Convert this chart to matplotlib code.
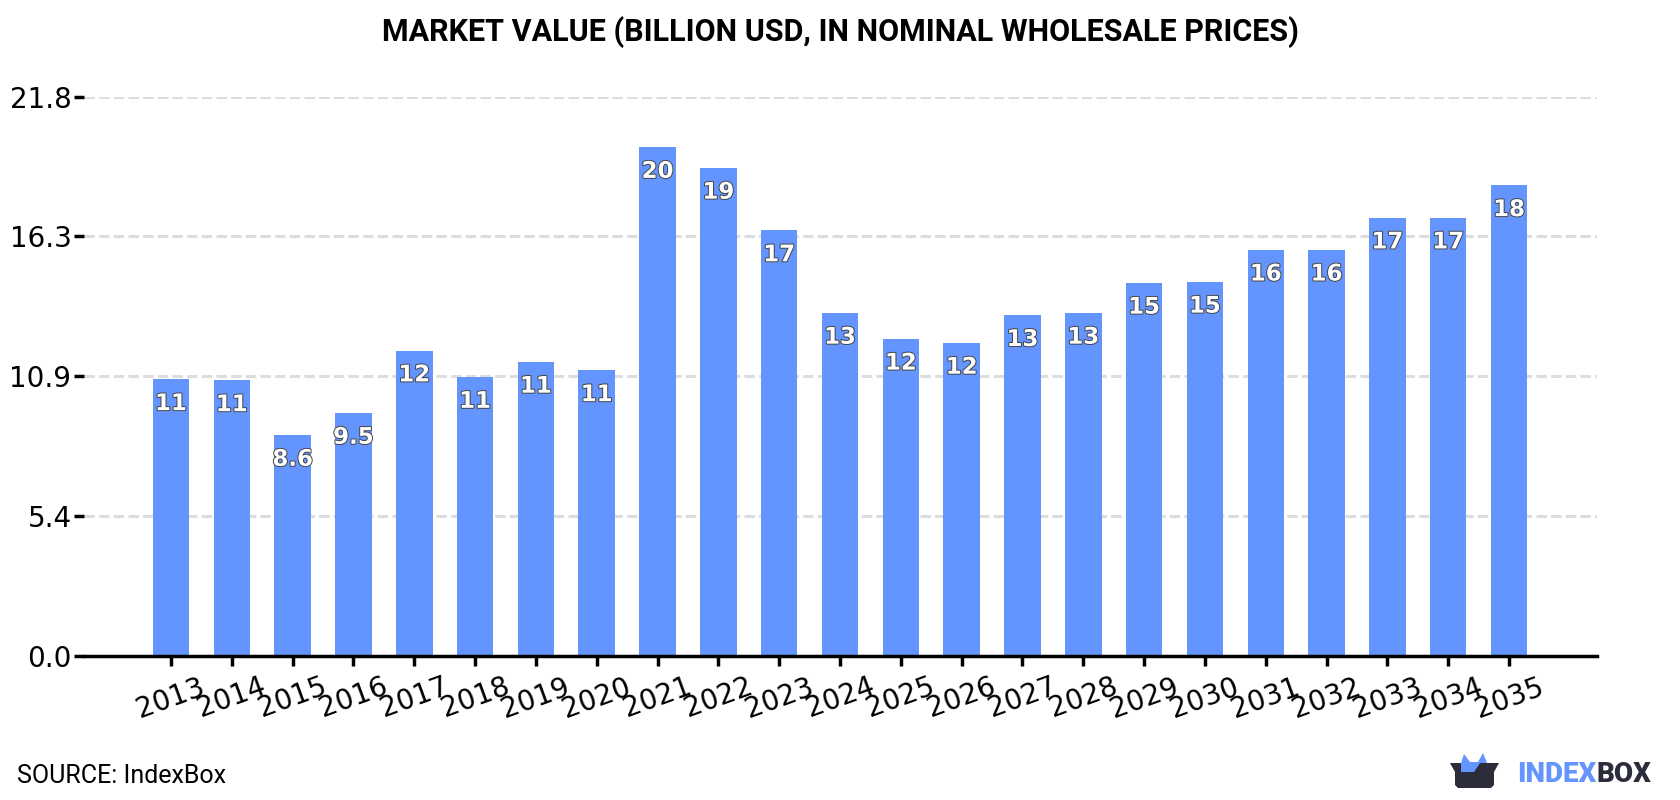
import matplotlib
matplotlib.use('Agg')
import matplotlib.pyplot as plt
import matplotlib.patheffects as pe
from matplotlib.patches import Polygon

years = [2013, 2014, 2015, 2016, 2017, 2018, 2019, 2020, 2021, 2022, 2023, 2024,
         2025, 2026, 2027, 2028, 2029, 2030, 2031, 2032, 2033, 2034, 2035]
values = [10.78, 10.74, 8.61, 9.47, 11.9, 10.87, 11.46, 11.13, 19.83, 19.02, 16.58, 13.37,
          12.36, 12.2, 13.28, 13.37, 14.54, 14.58, 15.83, 15.83, 17.08, 17.08, 18.34]
yticks = [0.0, 5.45, 10.9, 16.35, 21.8]
ytick_labels = ['0.0', '5.4', '10.9', '16.3', '21.8']

BLUE = '#6495ff'
DARK = '#2b2d3a'
W, H = 1680, 800

fig = plt.figure(figsize=(16.8, 8), dpi=100)
ax = fig.add_axes([84 / W, 1 - 656 / H, (1597.3 - 84) / W, (656 - 96.5) / H])

ax.bar(range(len(years)), values, width=0.6, color=BLUE, zorder=3)
ax.set_xlim(-1.43, 23.451)
ax.set_ylim(0, 21.8)

ax.set_yticks(yticks)
ax.set_yticklabels(ytick_labels, fontsize=20)
ax.set_xticks(range(len(years)))
ax.set_xticklabels(years, fontsize=20, rotation=20)
ax.tick_params(axis='y', length=7, width=2.5, pad=2)
ax.tick_params(axis='x', length=7, width=2.5, pad=5)
ax.grid(axis='y', color='#dddddd', linestyle=(0, (3.4, 1.4)), linewidth=2.2, zorder=0)
for side in ['top', 'right', 'left']:
    ax.spines[side].set_visible(False)
ax.spines['bottom'].set_linewidth(2.5)
ax.spines['bottom'].set_zorder(4)

# value labels sit just below the top of each bar
for i, v in enumerate(values):
    ax.annotate(format(v, '.2g'), (i, v), xytext=(0, -17.5), textcoords='offset points',
                ha='center', va='center', fontsize=16.5, fontweight='bold', color='white',
                zorder=5, path_effects=[pe.withStroke(linewidth=1.4, foreground='#444444')])

fig.text(0.5, 1 - 32 / H, 'MARKET VALUE (BILLION USD, IN NOMINAL WHOLESALE PRICES)',
         family='Roboto', fontweight='bold', fontsize=22, ha='center', va='center')
fig.text(17 / W, 1 - 776 / H, 'SOURCE: IndexBox', family='Roboto', fontsize=18, ha='left', va='center')

# logo: open box with blue ears
logo = fig.add_axes([0, 0, 1, 1], facecolor='none')
logo.set_xlim(0, W)
logo.set_ylim(H, 0)
logo.axis('off')
logo.add_patch(Polygon([(1461, 763), (1464, 754), (1470, 762), (1478, 762), (1483, 753),
                        (1487, 763), (1487, 772), (1473, 772), (1461, 772)], color=BLUE, lw=0))
logo.add_patch(Polygon([(1450, 763), (1461, 763), (1461, 772), (1474, 772), (1480, 763), (1499, 763),
                        (1494, 772), (1494, 785), (1491, 788), (1458, 788), (1455, 785), (1455, 772)],
                       color=DARK, lw=0))
fig.text(1517 / W, 1 - 774 / H, 'INDEX', family='Roboto', fontweight='black', fontsize=20,
         color=BLUE, ha='left', va='center')
fig.text(1597 / W, 1 - 774 / H, 'BOX', family='Roboto', fontweight='black', fontsize=20,
         color=DARK, ha='left', va='center')

fig.savefig('out.png', dpi=100)
